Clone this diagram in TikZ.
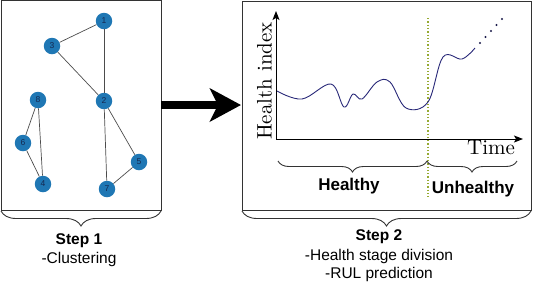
\documentclass[tikz,border=0pt]{standalone}
\usepackage{fontspec}
\newfontfamily\arial{Liberation Sans}
\usetikzlibrary{arrows.meta,decorations.pathreplacing}
\definecolor{nodeblue}{RGB}{31,119,180}
\definecolor{numcol}{RGB}{20,40,80}
\definecolor{curvecol}{RGB}{40,40,120}
\definecolor{divcol}{RGB}{150,170,50}
\tikzset{
  frame/.style={draw=black!80, line width=0.9pt},
  gnode/.style={circle, fill=nodeblue, minimum size=16.5pt, inner sep=0pt, text=numcol, font=\arial\fontsize{8.5}{8.5}\selectfont},
  gedge/.style={draw=black!70, line width=0.7pt},
  bigbrace/.style={decorate, decoration={brace, amplitude=15pt, mirror}, draw=black!80, line width=0.9pt},
  smallbrace/.style={decorate, decoration={brace, amplitude=11pt, mirror}, draw=black!80, line width=0.9pt},
  steptitle/.style={font=\arial\bfseries\fontsize{15.5}{15.5}\selectfont},
  steptext/.style={font=\arial\fontsize{15.5}{15.5}\selectfont},
  stagelabel/.style={font=\arial\bfseries\fontsize{17}{17}\selectfont},
  axlabel/.style={font=\normalsize, scale=2.1, inner sep=0pt},
  axis/.style={draw=black, line width=1pt, -{Stealth[length=9pt,width=7pt,inset=2pt]}}
}
\begin{document}
\begin{tikzpicture}[x=1pt,y=-1pt]
\useasboundingbox (0,0) rectangle (550,285);
% frames
\draw[frame] (1,0.5) rectangle (161,210);
\draw[frame] (242,1) rectangle (531,210);
% graph edges and nodes
\node[gnode] (n1) at (104,21) {1};
\node[gnode] (n3) at (52,46) {3};
\node[gnode] (n2) at (104,101) {2};
\node[gnode] (n8) at (38,100) {8};
\node[gnode] (n6) at (23,143) {6};
\node[gnode] (n4) at (43,184) {4};
\node[gnode] (n5) at (139,162) {5};
\node[gnode] (n7) at (107,189) {7};
\draw[gedge] (n1) -- (n3);
\draw[gedge] (n1) -- (n2);
\draw[gedge] (n3) -- (n2);
\draw[gedge] (n8) -- (n6);
\draw[gedge] (n8) -- (n4);
\draw[gedge] (n6) -- (n4);
\draw[gedge] (n2) -- (n5);
\draw[gedge] (n2) -- (n7);
\draw[gedge] (n7) -- (n5);
% big arrow
\coordinate (aS) at (161,105);
\coordinate (aE) at (241,105);
\draw[line width=7.5pt, -{Stealth[length=31pt,width=33pt,inset=8pt]}] (aS) -- (aE);
% outer braces
\draw[bigbrace] (1,211) -- (161,211);
\draw[bigbrace] (242,211) -- (531,211);
\node[steptitle] (s1) at (79,241) {Step 1};
\node[steptext] (s1t) at (79,259) {-Clustering};
\node[steptitle] (s2) at (379,237) {Step 2};
\node[steptext] (s2a) at (379,256) {-Health stage division};
\node[steptext] (s2b) at (379,274) {-RUL prediction};
% axes
\coordinate (O) at (276,139);
\coordinate (Ytop) at (276,11);
\coordinate (Xend) at (523,139);
\draw[axis] (O) -- (Ytop);
\draw[axis] (O) -- (Xend);
\node[axlabel, rotate=90] (hi) at (264.5,81) {Health index};
\node[axlabel] (tm) at (491,147.5) {Time};
% divider
\draw[divcol, dotted, line width=1.3pt] (428,18) -- (428,197);
% curve
\draw[curvecol, line width=0.9pt] plot[smooth, tension=0.6] coordinates {
 (277,91) (302,99) (331,84) (344,107) (353,94) (362,99) (377,82) (390,82)
 (406,108) (428,102) (443,57) (462,59) (475,48)};
\foreach \px/\py in {480/43, 485.5/37, 491/31, 496.5/25, 502/19}
  \fill[curvecol!60!black] (\px,\py) circle (1.1pt);
% inner braces
\draw[smallbrace] (278,161) -- (427,161);
\draw[smallbrace] (427,161) -- (517,161);
\node[stagelabel] (hl) at (349,186) {Healthy};
\node[stagelabel] (uh) at (473,189) {Unhealthy};
\end{tikzpicture}
\end{document}
